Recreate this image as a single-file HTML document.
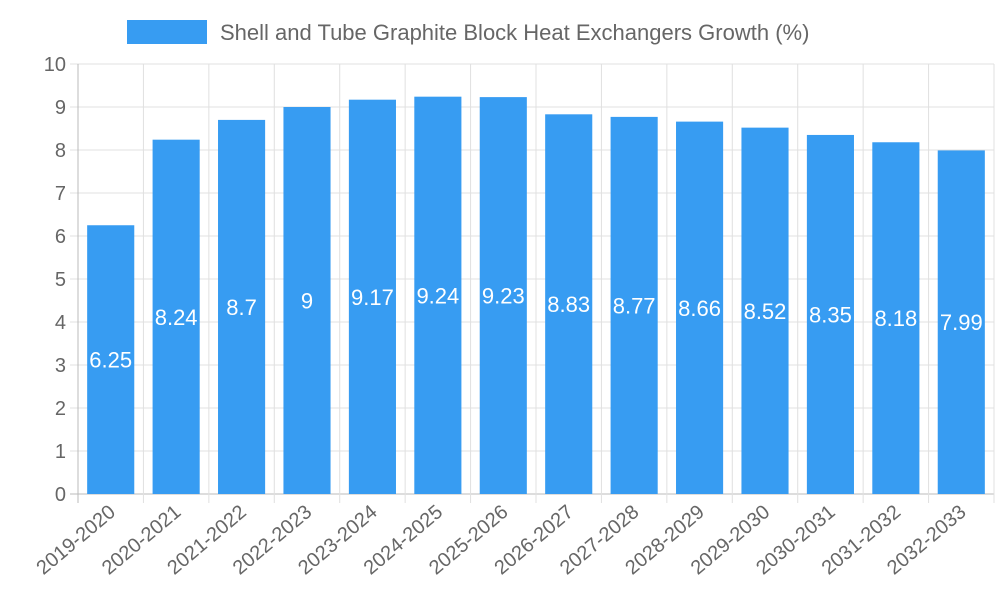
<!DOCTYPE html>
<html><head><meta charset="utf-8"><style>
body{margin:0;background:#fff;}
svg{display:block;font-family:"Liberation Sans",sans-serif;}
</style></head><body>
<svg id="chart" width="1000" height="600">
<g id="legend">
<rect x="127" y="20" width="80" height="24" fill="#379cf2"></rect>
<text x="220" y="40" font-size="22" fill="#666">Shell and Tube Graphite Block Heat Exchangers Growth (%)</text>
</g>
<g id="grid"></g><g id="bars"></g><g id="axes"></g>
</svg>
<script>
const categories=["2019-2020","2020-2021","2021-2022","2022-2023","2023-2024","2024-2025","2025-2026","2026-2027","2027-2028","2028-2029","2029-2030","2030-2031","2031-2032","2032-2033"];
const values=[6.25,8.24,8.7,9,9.17,9.24,9.23,8.83,8.77,8.66,8.52,8.35,8.18,7.99];
const yTicks=[0,1,2,3,4,5,6,7,8,9,10];
const L=78,R=994,T=64,B=494,yMax=10;
const NS="http://www.w3.org/2000/svg";
const band=(R-L)/categories.length;
const y=v=>B-(v/yMax)*(B-T);
const x=i=>L+i*band;
function mk(tag,attrs,parent,txt){const e=document.createElementNS(NS,tag);for(const k in attrs)e.setAttribute(k,attrs[k]);if(txt!==undefined)e.textContent=txt;parent.appendChild(e);return e;}
const grid=document.getElementById('grid'),bars=document.getElementById('bars'),axes=document.getElementById('axes');
yTicks.forEach(t=>{
 const l=mk('line',{x1:L-8,x2:R,y1:y(t),y2:y(t),stroke:t===0?'#bbb':'#e0e0e0','stroke-width':1},grid);
 
 
 const tx=mk('text',{x:L-12,y:y(t)+7,'text-anchor':'end','font-size':20,fill:'#666'},axes,String(t));
 
 
});
for(let i=0;i<=categories.length;i++){
 const l=mk('line',{x1:x(i),x2:x(i),y1:T,y2:B+9,stroke:i===0?'#bbb':'#e0e0e0','stroke-width':1},grid);
 
 
}
const bw=band*0.72;
values.forEach((v,i)=>{
 const cx=x(i)+band/2;
 const r=mk('rect',{x:cx-bw/2,y:y(v),width:bw,height:B-y(v),fill:'#379cf2'},bars);
 
 
 const t=mk('text',{x:cx,y:(y(v)+B)/2+8,'text-anchor':'middle','font-size':22,fill:'#fff'},bars,String(v));
 
 
 const xl=mk('text',{x:cx+6,y:B+20,'text-anchor':'end','font-size':20,fill:'#666',transform:`rotate(-40 ${cx+6} ${B+20})`},axes,categories[i]);
 
 
});
</script>
</body></html>
